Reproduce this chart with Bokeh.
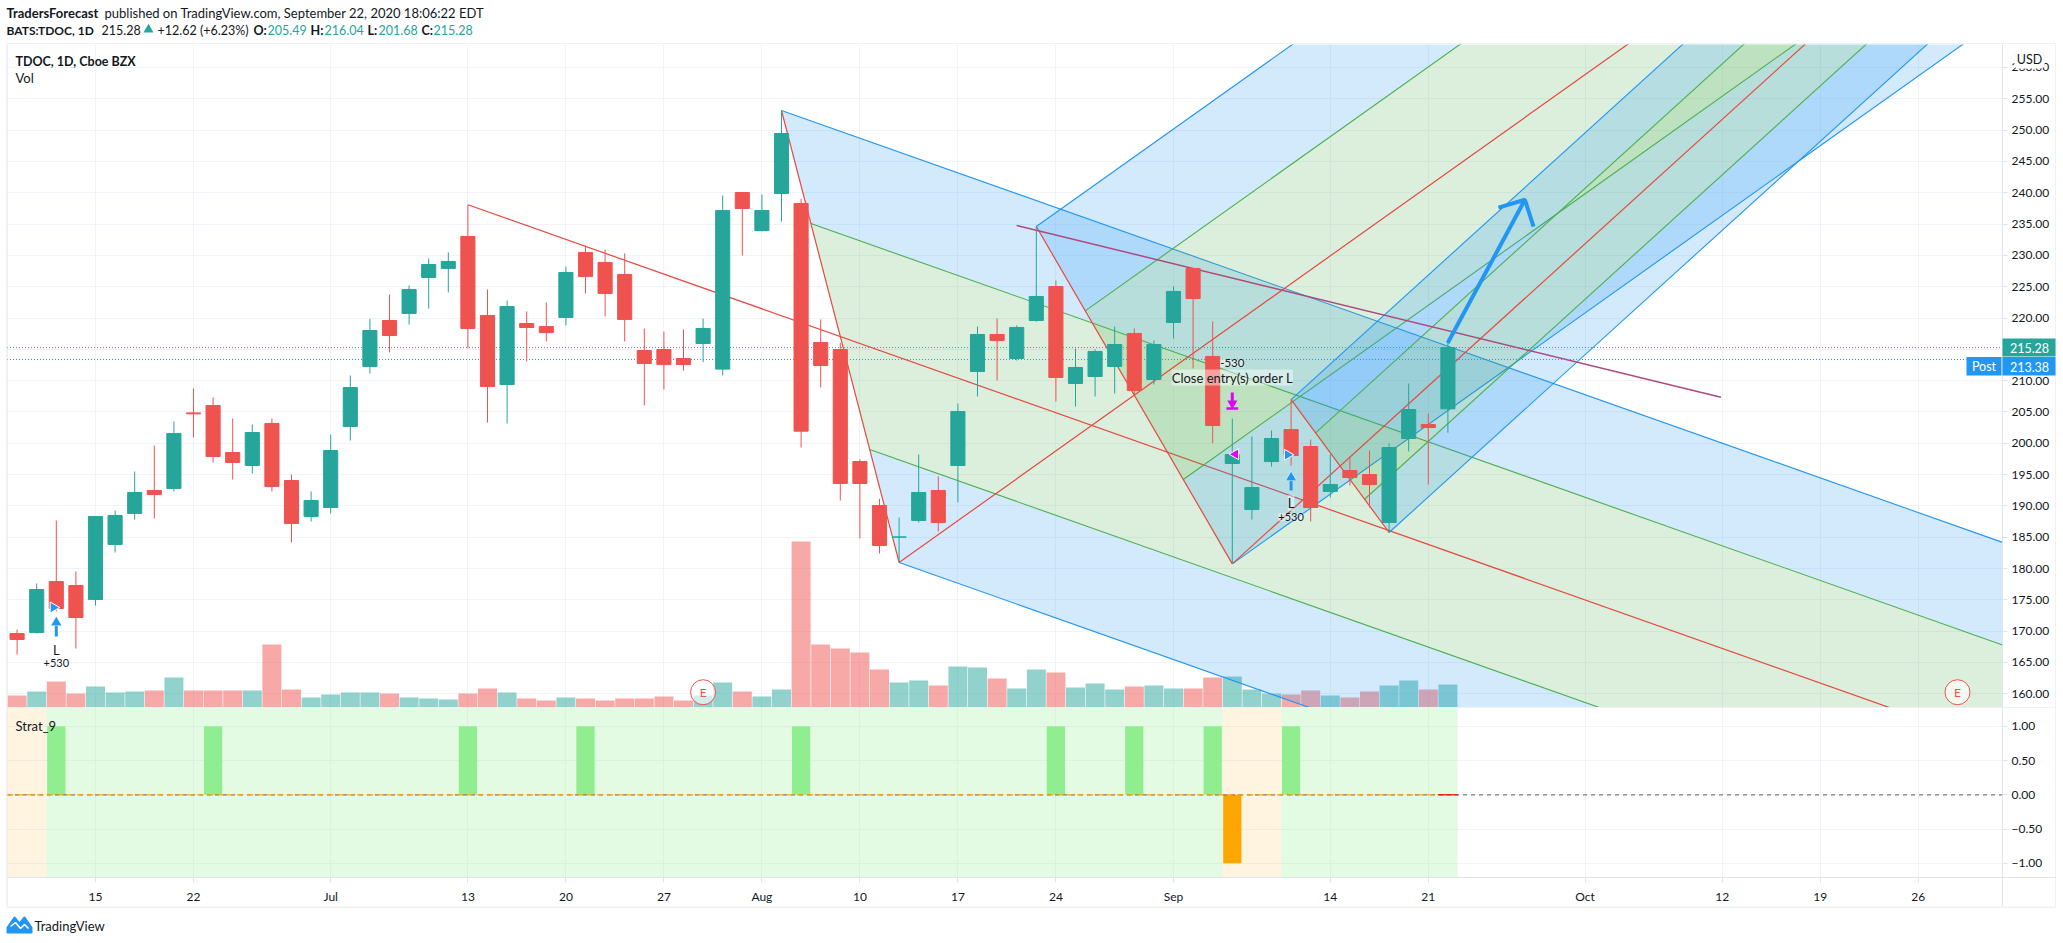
from bokeh.plotting import figure
from bokeh.layouts import column
from bokeh.models import (Range1d, LinearAxis, FixedTicker, Label, BoxAnnotation, Grid, NumeralTickFormatter)
from bokeh.embed import file_html
from bokeh.resources import INLINE
import math

# ---------------- data ----------------
first_bar = -4
opens = [169.63,169.79,177.93,177.29,175.06,183.84,188.79,192.46,192.78,204.85,206.03,198.52,196.45,203.16,194.05,188.31,189.74,202.68,212.26,219.60,220.73,226.47,227.91,233.02,220.41,209.38,219.12,218.64,220.09,230.47,228.87,226.95,214.81,214.97,213.53,215.93,211.84,240.04,233.97,239.88,238.29,216.09,214.97,197.09,190.07,185.00,187.67,192.46,196.45,211.46,217.37,213.54,219.60,225.03,209.55,210.66,212.26,217.53,210.18,219.29,227.91,213.86,196.77,189.42,197.08,202.19,199.48,192.30,195.65,195.01,187.35,200.76,202.99,205.49]
highs = [170.27,177.61,187.67,179.53,188.31,189.26,195.49,199.64,203.47,208.74,207.31,203.95,202.99,203.95,195.01,192.30,201.40,210.82,219.87,223.75,225.20,229.50,230.47,238.08,224.56,222.80,221.05,222.48,228.23,231.58,230.94,230.31,218.32,217.84,218.16,219.90,239.56,240.04,239.72,253.13,239.03,219.77,216.04,197.41,191.13,188.15,198.21,194.70,206.35,218.65,219.92,218.81,234.60,225.99,215.13,214.98,218.65,218.33,216.41,225.03,228.00,219.45,203.95,201.08,202.03,206.98,200.60,198.20,197.88,198.84,199.96,209.54,204.75,216.04]
lows = [166.27,169.63,173.14,167.23,174.10,182.56,187.83,187.99,192.30,200.92,196.93,194.21,195.17,192.30,184.16,187.51,188.79,200.44,211.14,214.50,218.96,221.50,224.08,215.13,203.31,203.15,213.05,216.25,218.80,223.92,220.25,216.25,206.03,208.58,211.62,212.95,210.82,229.98,233.80,235.41,199.33,208.91,190.86,184.80,182.40,180.97,187.35,185.90,190.55,207.47,210.03,213.22,219.40,206.67,205.87,207.47,207.95,207.50,209.38,216.73,211.94,200.01,180.75,187.82,196.29,196.45,187.50,191.34,193.25,189.74,185.75,198.68,193.41,201.68]
closes = [168.67,176.65,173.62,172.18,188.31,188.47,192.14,191.82,201.56,204.70,197.89,196.93,201.72,193.10,187.19,190.86,198.84,208.90,218.00,217.20,224.56,228.55,229.03,218.32,209.06,221.84,218.48,217.68,227.27,226.63,223.92,219.77,212.73,212.57,212.57,218.33,237.17,237.49,237.17,249.46,201.93,212.42,193.58,193.58,183.68,185.05,192.14,187.35,205.07,217.37,216.41,218.49,223.44,210.50,212.10,214.66,215.77,208.43,215.77,224.24,223.12,202.83,198.20,192.93,200.76,198.04,189.74,193.41,194.53,193.41,199.32,205.39,202.51,215.28]
volumes_m = [0.48,0.64,1.04,0.56,0.84,0.60,0.64,0.68,1.20,0.68,0.68,0.68,0.68,2.52,0.72,0.40,0.52,0.60,0.60,0.56,0.40,0.36,0.32,0.56,0.76,0.60,0.36,0.28,0.40,0.36,0.28,0.36,0.36,0.44,0.28,0.48,1.00,0.64,0.44,0.72,6.64,2.52,2.36,2.20,1.52,1.00,1.08,0.88,1.64,1.60,1.16,0.76,1.52,1.40,0.80,0.96,0.72,0.84,0.88,0.76,0.76,1.20,1.24,0.72,0.56,0.52,0.68,0.48,0.40,0.64,0.88,1.08,0.72,0.92]

price_ticks = [160,165,170,175,180,185,190,195,200,205,210,215,220,225,230,235,240,245,250,255,260]
strat_ticks = [-1.0,-0.5,0.0,0.5,1.0]
strat_tick_labels = {-1.0:"\u22121.00",-0.5:"\u22120.50",0.0:"0.00",0.5:"0.50",1.0:"1.00"}
date_ticks = [0,5,12,19,24,29,34,39,44,49,55,63,68,76,83,88,93]
date_labels = ["15","22","Jul","13","20","27","Aug","10","17","24","Sep","14","21","Oct","12","19","26"]

# pitchfork anchors (bar index, price)
fork_a_bars = [19,35,41];  fork_a_prices = [238.08,253.13,180.97]
fork_b_bars = [41,48,58];  fork_b_prices = [180.97,234.60,180.75]
fork_c_bars = [58,61,66];  fork_c_prices = [180.75,206.98,185.75]
trend_bars = [47,82.93];   trend_prices = [234.77,207.35]
arrow_bars = [68.99,72.93]; arrow_prices = [216.0,238.88]
arrow_head_bars = [71.58,72.93,73.37]; arrow_head_prices = [237.63,238.88,234.6]

last_price = 215.28
post_price = 213.38

strat_long_bars = [-2,6,19,25,36,49,53,57,61]
strat_short_bars = [58]
strat_flat_bars = [-4,-3,58,59,60]
earnings_bars = [31,95]
earnings_price = 160.25

# ---------------- layout constants ----------------
BAR_PX, ORIGIN_PX = 19.6, 95.0
PX_PER_USD, REF_Y, REF_P = 6.263, 98.3, 255.0
STRAT_PX, STRAT_ZERO = 68.5, 794.3
WIDTH = 2056
RED, GREEN, BLUE, LGREEN, MAGENTA = "#ef5350", "#26a69a", "#2196f3", "#4caf50", "#e100ff"
GRID, BORDER, TXT = "#f0f3fa", "#e0e3eb", "#131722"
FONT = "Lato"

def fx(px): return (px-ORIGIN_PX)/BAR_PX
def fy(py): return REF_P-(py-REF_Y)/PX_PER_USD
def fs(py): return (STRAT_ZERO-py)/STRAT_PX

x_left, x_end, x_max = fx(6.5), fx(2002), fx(WIDTH)
bars = [first_bar+i for i in range(len(opens))]
is_up = [c >= o for o, c in zip(opens, closes)]

def bare(h, xr, yr):
    f_ = figure(width=WIDTH, height=h, x_range=xr, y_range=yr, output_backend="svg", toolbar_location=None,
                x_axis_location=None, y_axis_location=None, min_border=0, outline_line_color=None,
                background_fill_color="white", border_fill_color="white")
    f_.grid.visible = False
    return f_

def style_axis(ax):
    ax.axis_line_color=BORDER; ax.major_tick_line_color=BORDER; ax.minor_tick_line_color=None
    ax.major_label_text_font=FONT; ax.major_label_text_font_size="12px"; ax.major_label_text_color=TXT

# ---------------- header ----------------
head = bare(44, Range1d(0,WIDTH), Range1d(44,0))
head.segment([6],[43.5],[WIDTH],[43.5],line_color=BORDER,line_width=1)
def h(x, row, text, style="normal", color=TXT, size="13px"):
    head.add_layout(Label(x=x, y=row, text=text, text_font=FONT, text_font_size=size, text_font_style=style,
                          text_color=color, text_baseline="middle", text_align="left"))
for x_, t_, st_, c_ in [(6,"TradersForecast","bold",TXT),(104,"published on TradingView.com, September 22, 2020 18:06:22 EDT","normal",TXT)]:
    h(x_,12.5,t_,st_,c_)
h(6,29.5,"BATS:TDOC, 1D","bold",TXT,"12px")
for x_, t_, st_, c_ in [(101,"215.28","normal",TXT),(157,"+12.62 (+6.23%)","normal",TXT),
                        (253,"O:","bold",TXT),(267,"205.49","normal",GREEN),(310,"H:","bold",TXT),(324,"216.04","normal",GREEN),
                        (367,"L:","bold",TXT),(378,"201.68","normal",GREEN),(421,"C:","bold",TXT),(433,"215.28","normal",GREEN)]:
    h(x_,29.5,t_,st_,c_,"12.5px")
head.scatter([148],[29.0],marker="triangle",size=10,fill_color=GREEN,line_color=None)

# ---------------- price pane ----------------
p = bare(663, Range1d(fx(0),x_max), Range1d(fy(707),fy(44)))
p.add_layout(Grid(dimension=1, ticker=FixedTicker(ticks=price_ticks), grid_line_color=GRID, cross_bounds=(x_left,x_end)))
p.add_layout(Grid(dimension=0, ticker=FixedTicker(ticks=date_ticks), grid_line_color=GRID))

# volume
p.extra_y_ranges = {"vol": Range1d(0, 26.52)}
p.vbar(x=bars, top=volumes_m, bottom=0, width=0.97, y_range_name="vol",
       fill_color=[GREEN if u else RED for u in is_up], fill_alpha=0.5, line_color=None)

# pitchforks
def fork(fb, fp):
    (b0,b1,b2),(p0,p1,p2) = fb, fp
    mb, mp = (b1+b2)/2, (p1+p2)/2
    slope = (mp-p0)/(mb-b0)
    def pt(f):
        b = b1+(b2-b1)*f; pr = p1+(p2-p1)*f
        return b, pr, x_end, pr+slope*(x_end-b)
    for f0,f1,c in [(0,.25,BLUE),(.25,.5,LGREEN),(.5,.75,LGREEN),(.75,1,BLUE)]:
        a, b = pt(f0), pt(f1)
        p.patch([a[0],a[2],b[2],b[0]],[a[1],a[3],b[3],b[1]],fill_color=c,fill_alpha=0.2,line_color=None)
    for f,c in [(0,BLUE),(.25,LGREEN),(.75,LGREEN),(1,BLUE)]:
        a = pt(f)
        p.line([a[0],a[2]],[a[1],a[3]],line_color=c,line_width=1.1)
    p.line([b0,x_end],[p0,p0+slope*(x_end-b0)],line_color="#e6493f",line_width=1.2)
    p.line([b1,b2],[p1,p2],line_color="#e6493f",line_width=1.2)
fork(fork_a_bars,fork_a_prices)
fork(fork_b_bars,fork_b_prices)
fork(fork_c_bars,fork_c_prices)
p.line(trend_bars,trend_prices,line_color="#ad4a7f",line_width=1.5)

# last price lines
p.line([x_left,x_end],[last_price,last_price],line_color=GREEN,line_width=1,line_dash=[1,2])
p.line([x_left,fx(1966)],[post_price,post_price],line_color=BLUE,line_width=1,line_dash=[1,2])

# candles
col = [GREEN if u else RED for u in is_up]
p.segment(bars,lows,bars,highs,line_color=col,line_width=1)
p.vbar(x=bars,top=[max(o,c) for o,c in zip(opens,closes)],bottom=[min(o,c) for o,c in zip(opens,closes)],
       width=0.72,fill_color=col,line_color=col,line_width=1)

# arrow drawing
p.line(arrow_bars,arrow_prices,line_color=BLUE,line_width=4)
p.line(arrow_head_bars,arrow_head_prices,line_color=BLUE,line_width=4)

# earnings
p.scatter(earnings_bars,[earnings_price]*2,marker="circle",size=25,fill_color="white",fill_alpha=0.6,line_color=RED,line_width=1)
for b_ in earnings_bars:
    p.add_layout(Label(x=b_,y=earnings_price,text="E",text_align="center",text_baseline="middle",text_color=RED,
                       text_font=FONT,text_font_size="12px"))

# trade markers
def up_arrow(b, y0, y1, yh):
    p.line([b,b],[y0,y1],line_color=BLUE,line_width=3)
    p.scatter([b],[yh],marker="triangle",size=11,fill_color=BLUE,line_color="white",line_width=0.5)
def tri(b, y, color, angle):
    p.scatter([b],[y],marker="triangle",size=11,angle=angle,fill_color=color,line_color="white",line_width=1)
up_arrow(-2,fy(621),fy(636),fy(622))
up_arrow(61,fy(476),fy(490),fy(477))
tri(-2.15,fy(607),BLUE,-math.pi/2)
tri(60.82,fy(454.3),BLUE,-math.pi/2)
tri(58.16,fy(453.7),MAGENTA,math.pi/2)
p.line([58,58],[fy(392),fy(403)],line_color=MAGENTA,line_width=3)
p.scatter([58],[fy(403)],marker="inverted_triangle",size=10,fill_color=MAGENTA,line_color=None)
p.line([57.7,58.3],[fy(408),fy(408)],line_color=MAGENTA,line_width=2.5)
def note(b, py, text, size="13px"):
    p.add_layout(Label(x=b,y=fy(py),text=text,text_align="center",text_baseline="middle",text_color=TXT,
                       text_font=FONT,text_font_size=size,background_fill_color="white",background_fill_alpha=0.45))
note(-2,649,"L"); note(-2,662.7,"+530","11px")
note(61,502.7,"L"); note(61,516.7,"+530","11px")
note(58,362.7,"-530","11.5px"); note(58,377,"Close entry(s) order L")

# pane titles
def title(fig, px, yval, text, style="normal", size="13px"):
    fig.add_layout(Label(x=fx(px),y=yval,text=text,text_align="left",text_baseline="middle",text_color=TXT,
                         text_font=FONT,text_font_size=size,text_font_style=style))
title(p,15,fy(60.7),"TDOC, 1D, Cboe BZX","bold","12.5px")
title(p,15,fy(77),"Vol")

# price axis
yax = LinearAxis(fixed_location=x_end, ticker=FixedTicker(ticks=price_ticks), formatter=NumeralTickFormatter(format="0.00"),
                 major_tick_in=0, major_tick_out=5, major_label_standoff=4)
style_axis(yax)
p.add_layout(yax,"right")

# right-hand price labels
def box(fig,l,r,t,b,fill,line=None,radius=0):
    fig.add_layout(BoxAnnotation(left=l,right=r,top=t,bottom=b,fill_color=fill,fill_alpha=1,line_color=line,
                                 line_width=1,border_radius=radius,level="overlay"))
box(p,fx(2002),fx(2055),fy(338),fy(356),GREEN)
box(p,fx(2002),fx(2055),fy(356.5),fy(375),BLUE)
box(p,fx(1966),fx(2001),fy(356.5),fy(375),BLUE)
box(p,fx(2014),fx(2044),fy(50.7),fy(68),"white",BORDER,4)
def tag(px,py,text,color="white"):
    p.add_layout(Label(x=fx(px),y=fy(py),text=text,text_align="center",text_baseline="middle",text_color=color,
                       text_font=FONT,text_font_size="12.5px",level="overlay"))
tag(2029,347,"215.28"); tag(2029,366,"213.38"); tag(1983.5,366,"Post"); tag(2029,59,"USD",TXT)
for x_ in [x_left, fx(2055.5)]:
    p.line([x_,x_],[fy(707),fy(44)],line_color=BORDER,line_width=1)

# ---------------- strategy pane + time axis ----------------
s_top, s_bot = fs(707), fs(877)
s = bare(199, p.x_range, Range1d(fs(906),s_top))
s.add_layout(Grid(dimension=1, ticker=FixedTicker(ticks=strat_ticks), grid_line_color=GRID, cross_bounds=(x_left,x_end)))
s.add_layout(Grid(dimension=0, ticker=FixedTicker(ticks=date_ticks), grid_line_color=GRID, cross_bounds=(s_bot,s_top)))

bg_c = ["#ffa500" if b in strat_flat_bars else "#90ee90" for b in bars]
bg_a = [0.12 if b in strat_flat_bars else 0.25 for b in bars]
s.vbar(x=bars,top=s_top,bottom=s_bot,width=1.0,fill_color=bg_c,fill_alpha=bg_a,line_color=None)
s.vbar(x=strat_long_bars,top=1,bottom=0,width=0.93,fill_color="#90ee90",line_color=None)
s.vbar(x=strat_short_bars,top=0,bottom=-1,width=0.93,fill_color="#ffa500",line_color=None)
s.line([x_left,x_end],[0,0],line_color="#787b86",line_width=1.2,line_dash=[4,4])
s.line([bars[0]-0.5,bars[-2]+0.5],[0,0],line_color="#ffa500",line_width=1.3,line_dash=[6,4])
s.line([bars[-2]+0.5,bars[-1]+0.5],[0,0],line_color="#ff0000",line_width=1.3)
title(s,15,fs(725),"Strat_9")

syax = LinearAxis(fixed_location=x_end, ticker=FixedTicker(ticks=strat_ticks), major_label_overrides=strat_tick_labels,
                  major_tick_in=0, major_tick_out=5, major_label_standoff=4, bounds=(s_bot,s_top))
style_axis(syax)
s.add_layout(syax,"right")
xax = LinearAxis(fixed_location=s_bot, ticker=FixedTicker(ticks=date_ticks), major_label_overrides=dict(zip(date_ticks,date_labels)),
                 major_tick_in=0, major_tick_out=5, major_label_standoff=6, bounds=(x_left,x_max))
style_axis(xax)
s.add_layout(xax,"below")
s.line([x_left,x_max],[s_top,s_top],line_color=BORDER,line_width=1)
for x_, y0_ in [(x_left,fs(906)),(x_end,fs(906)),(fx(2055.5),fs(906))]:
    s.line([x_,x_],[y0_,s_top],line_color=BORDER,line_width=1)

# ---------------- footer ----------------
f = bare(30, Range1d(0,WIDTH), Range1d(30,0))
f.segment([6],[0.5],[WIDTH],[0.5],line_color=BORDER,line_width=1)
f.patch([7,7,14,19,24,31,31],[26,21,11,17,11,21,26],fill_color=BLUE,line_color=BLUE,line_width=2,line_join="round")
f.line([10,15,20,24,28],[20,16,22,18,22],line_color="white",line_width=1.6)
f.add_layout(Label(x=34,y=19,text="TradingView",text_font=FONT,text_font_size="13px",text_color=TXT,text_baseline="middle"))

page = column(head,p,s,f,spacing=0)
open("out.html","w").write(file_html(page,INLINE))
